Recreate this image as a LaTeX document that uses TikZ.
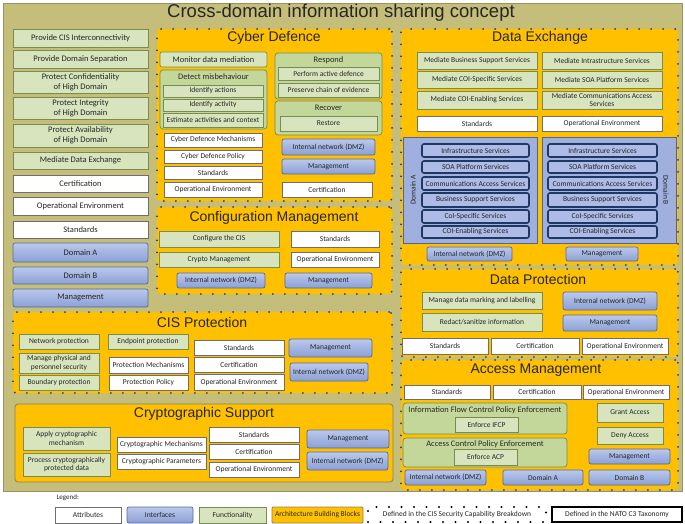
\documentclass[tikz,border=0pt]{standalone}
\usepackage{fontspec}
\setmainfont{Carlito}
\newfontfamily\arialf{Liberation Sans}
\definecolor{olivebg}{RGB}{196,190,122}
\definecolor{oliveln}{RGB}{150,146,100}
\definecolor{abbfill}{RGB}{255,192,0}
\definecolor{abbline}{RGB}{140,130,90}
\definecolor{dotcol}{RGB}{40,60,110}
\definecolor{grnfill}{RGB}{215,228,189}
\definecolor{grpfill}{RGB}{196,215,155}
\definecolor{grnline}{RGB}{120,140,80}
\definecolor{whtline}{RGB}{110,110,110}
\definecolor{blutop}{RGB}{186,200,236}
\definecolor{blubot}{RGB}{140,160,212}
\definecolor{bluline}{RGB}{85,105,155}
\definecolor{domfill}{RGB}{160,176,222}
\definecolor{domline}{RGB}{80,100,150}
\definecolor{svcfill}{RGB}{172,188,230}
\definecolor{svcline}{RGB}{32,56,100}
\definecolor{txt}{RGB}{38,38,38}
\tikzset{
  box/.style={anchor=north west, inner sep=1pt, outer sep=0pt, align=center, text=txt, font=\fontsize{7.5}{8.3}\selectfont},
  wh/.style 2 args={minimum width=#1pt, minimum height=#2pt},
  lc/.style={font=\fontsize{8.5}{10}\selectfont},
  grn/.style={box, draw=grnline, fill=grnfill, line width=0.7pt},
  grp/.style={box, draw=grnline, fill=grpfill, rounded corners=3pt, line width=0.7pt},
  wht/.style={box, draw=whtline, fill=white, line width=0.6pt},
  blu/.style={box, draw=bluline, top color=blutop, bottom color=blubot, rounded corners=2pt, line width=0.7pt},
  dom/.style={box, draw=domline, fill=domfill, line width=0.6pt},
  svc/.style={box, draw=svcline, fill=svcfill, rounded corners=2pt, line width=1.6pt},
  abb/.style={box, fill=abbfill, draw=dotcol, rounded corners=3pt, line width=2pt, line cap=round, dash pattern=on 0pt off 12pt},
  abbsolid/.style={box, fill=abbfill, draw=abbline, rounded corners=3pt, line width=0.8pt},
  abbtitle/.style={text=txt, font=\arialf\fontsize{14}{16}\selectfont},
  grptitle/.style={text=txt, font=\fontsize{8.4}{10}\selectfont},
  vlabel/.style={text=txt, font=\fontsize{7.5}{9}\selectfont}
}
\begin{document}
\begin{tikzpicture}[x=1pt,y=1pt,yscale=-1]
\useasboundingbox (0,0) rectangle (685,524);
\fill[white] (0,0) rectangle (685,524);

%Outer frame
\node[box, fill=olivebg, draw=oliveln, line width=0.8pt, wh={679}{488}] (frame) at (3,3) {};
% Text Node
\node[text=txt, font=\arialf\fontsize{18.5}{20}\selectfont] (title) at (341,13) {Cross-domain information sharing concept};

%Left column
\node[grn, lc, wh={135}{18}] (cisic) at (13,29) {Provide CIS Interconnectivity};
\node[grn, lc, wh={135}{18}] (dsep) at (13,50) {Provide Domain Separation};
\node[grn, lc, wh={135}{22}] (pconf) at (13,71) {Protect Confidentiality\\of High Domain};
\node[grn, lc, wh={135}{22}] (pint) at (13,97) {Protect Integrity\\of High Domain};
\node[grn, lc, wh={135}{23}] (pavail) at (13,124) {Protect Availability\\of High Domain};
\node[grn, lc, wh={135}{17}] (mde) at (13,152) {Mediate Data Exchange};
\node[wht, lc, wh={135}{17}] (lcert) at (13,175) {Certification};
\node[wht, lc, wh={135}{18}] (lopenv) at (13,197) {Operational Environment};
\node[wht, lc, wh={135}{17}] (lstd) at (13,221) {Standards};
\node[blu, lc, wh={135}{19}] (ldoma) at (13,243) {Domain A};
\node[blu, lc, wh={135}{17}] (ldomb) at (13,267) {Domain B};
\node[blu, lc, wh={135}{18}] (lmgmt) at (13,289) {Management};

%Cyber Defence
\node[abb, wh={235}{172}] (cyd) at (157,29) {};
\node[abbtitle] (cydt) at (274,38) {Cyber Defence};
\node[grn, grptitle, rounded corners=2pt, wh={107}{15}] (mdm) at (160,52) {Monitor data mediation};
\node[grp, wh={107}{59}] (dmb) at (160,70) {};
\node[grptitle] (dmbt) at (213.5,77) {Detect misbehaviour};
\node[grn, wh={100}{12}] (ida) at (163,85) {Identify actions};
\node[grn, wh={100}{12}] (idy) at (163,99) {Identify activity};
\node[grn, wh={100}{14}] (eac) at (163,113) {Estimate activities and context};
\node[grp, wh={107}{46}] (rsp) at (275,53) {};
\node[grptitle] (rspt) at (328.5,60) {Respond};
\node[grn, wh={101}{13}] (pad) at (278,67) {Perform active defence};
\node[grn, wh={101}{14}] (pce) at (278,83) {Preserve chain of evidence};
\node[grp, wh={107}{34}] (rcv) at (275,101) {};
\node[grptitle] (rcvt) at (328.5,108) {Recover};
\node[grn, wh={97}{15}] (rst) at (280,116) {Restore};
\node[wht, wh={98}{14}] (cdm) at (164,133) {Cyber Defence Mechanisms};
\node[wht, wh={98}{13}] (cdp) at (164,150) {Cyber Defence Policy};
\node[wht, wh={98}{13}] (cdstd) at (164,166) {Standards};
\node[wht, wh={98}{15}] (cdoe) at (164,182) {Operational Environment};
\node[blu, wh={93}{16}] (cddmz) at (282,139) {Internal network (DMZ)};
\node[blu, wh={93}{15}] (cdmgmt) at (282,159) {Management};
\node[wht, wh={90}{15}] (cdcert) at (282,182) {Certification};

%Configuration Management
\node[abb, wh={235}{87}] (cfg) at (157,207) {};
\node[abbtitle] (cfgt) at (274,218) {Configuration Management};
\node[grn, wh={120}{16}] (ccis) at (159,231) {Configure the CIS};
\node[grn, wh={120}{15}] (cmgt) at (159,252) {Crypto Management};
\node[wht, wh={88}{16}] (cmstd) at (291,231) {Standards};
\node[wht, wh={88}{15}] (cmoe) at (291,252) {Operational Environment};
\node[blu, wh={88}{15}] (cmdmz) at (177,273) {Internal network (DMZ)};
\node[blu, wh={87}{15}] (cmmgmt) at (285,273) {Management};

%CIS Protection
\node[abb, wh={379}{81}] (cisp) at (13,312) {};
\node[abbtitle] (cispt) at (202,322) {CIS Protection};
\node[grn, wh={80}{15}] (netp) at (19,334) {Network protection};
\node[grn, wh={80}{20}] (mpps) at (19,353) {Manage physical and\\personnel security};
\node[grn, wh={80}{15}] (bndp) at (19,375) {Boundary protection};
\node[grn, wh={80}{15}] (endp) at (108,334) {Endpoint protection};
\node[wht, wh={79}{16}] (pmech) at (109,357) {Protection Mechanisms};
\node[wht, wh={79}{15}] (ppol) at (109,375) {Protection Policy};
\node[wht, wh={90}{15}] (cpstd) at (194,340) {Standards};
\node[wht, wh={90}{15}] (cpcert) at (194,357) {Certification};
\node[wht, wh={90}{16}] (cpoe) at (194,374) {Operational Environment};
\node[blu, wh={83}{18}] (cpmgmt) at (289,339) {Management};
\node[blu, wh={78}{18}] (cpdmz) at (290,363) {Internal network (DMZ)};

%Cryptographic Support
\node[abbsolid, wh={378}{78}] (crs) at (15,404) {};
\node[abbtitle] (crst) at (204,414) {Cryptographic Support};
\node[grn, wh={87}{23}] (acm) at (23,427) {Apply cryptographic\\mechanism};
\node[grn, wh={87}{23}] (pcpd) at (23,453) {Process cryptographically\\protected data};
\node[wht, wh={89}{15}] (csmech) at (117,437) {Cryptographic Mechanisms};
\node[wht, wh={89}{15}] (cspar) at (117,454) {Cryptographic Parameters};
\node[wht, wh={90}{15}] (csstd) at (209,427) {Standards};
\node[wht, wh={90}{15}] (cscert) at (209,444) {Certification};
\node[wht, wh={90}{15}] (csoe) at (209,462) {Operational Environment};
\node[blu, wh={82}{18}] (csmgmt) at (307,430) {Management};
\node[blu, wh={81}{18}] (csdmz) at (307,452) {Internal network (DMZ)};

%Data Exchange
\node[abb, wh={277}{236}] (dex) at (401,29) {};
\node[abbtitle] (dext) at (540,38) {Data Exchange};
\node[grn, wh={120}{17}] (mbss) at (417,52) {Mediate Business Support Services};
\node[grn, wh={120}{17}] (mcoi) at (417,71) {Mediate COI-Specific Services};
\node[grn, wh={120}{18}] (mcoe) at (417,91) {Mediate COI-Enabling Services};
\node[grn, wh={120}{17}] (mins) at (542,52) {Mediate Intrastructure Services};
\node[grn, wh={120}{17}] (msoa) at (542,71) {Mediate SOA Platform Services};
\node[grn, wh={120}{18}] (mcas) at (542,91) {Mediate Communications Access\\Services};
\node[wht, wh={120}{15}] (dxstd) at (417,116) {Standards};
\node[wht, wh={120}{15}] (dxoe) at (542,116) {Operational Environment};
% Domain A
\node[dom, wh={134}{106}] (doma) at (403,137) {};
\node[vlabel, rotate=90] (domat) at (413,190) {Domain A};
\node[svc, wh={107}{13}] (ainf) at (422,144) {Infrastructure Services};
\node[svc, wh={107}{12}] (asoa) at (422,161) {SOA Platform Services};
\node[svc, wh={107}{13}] (acas) at (422,177) {Communications Access Services};
\node[svc, wh={107}{14}] (abss) at (422,193) {Business Support Services};
\node[svc, wh={107}{13}] (acoi) at (422,210) {CoI-Specific Services};
\node[svc, wh={107}{12}] (acoe) at (422,226) {COI-Enabling Services};
% Domain B
\node[dom, wh={134}{106}] (domb) at (542,137) {};
\node[vlabel, rotate=-90] (dombt) at (666,190) {Domain B};
\node[svc, wh={109}{13}] (binf) at (548,144) {Infrastructure Services};
\node[svc, wh={109}{12}] (bsoa) at (548,161) {SOA Platform Services};
\node[svc, wh={109}{13}] (bcas) at (548,177) {Communications Access Services};
\node[svc, wh={109}{14}] (bbss) at (548,193) {Business Support Services};
\node[svc, wh={109}{13}] (bcoi) at (548,210) {CoI-Specific Services};
\node[svc, wh={109}{12}] (bcoe) at (548,226) {COI-Enabling Services};
\node[blu, wh={85}{14}] (dxdmz) at (427,247) {Internal network (DMZ)};
\node[blu, wh={72}{14}] (dxmgmt) at (566,247) {Management};

%Data Protection
\node[abb, wh={277}{88}] (dpr) at (401,269) {};
\node[abbtitle] (dprt) at (538,279) {Data Protection};
\node[grn, wh={120}{17}] (mdml) at (422,292) {Manage data marking and labelling};
\node[grn, wh={120}{18}] (rsi) at (422,313) {Redact/sanitize information};
\node[blu, wh={94}{18}] (dpdmz) at (563,292) {Internal network (DMZ)};
\node[blu, wh={94}{16}] (dpmgmt) at (563,315) {Management};
\node[wht, wh={86}{16}] (dpstd) at (402,338) {Standards};
\node[wht, wh={88}{16}] (dpcert) at (491,338) {Certification};
\node[wht, wh={86}{16}] (dpoe) at (582,338) {Operational Environment};

%Access Management
\node[abb, wh={277}{130}] (acc) at (401,360) {};
\node[abbtitle] (acct) at (536,370) {Access Management};
\node[wht, wh={86}{14}] (amstd) at (404,385) {Standards};
\node[wht, wh={88}{14}] (amcert) at (493,385) {Certification};
\node[wht, wh={86}{14}] (amoe) at (583,385) {Operational Environment};
\node[grp, wh={164}{31}] (ifcp) at (403,403) {};
\node[grptitle] (ifcpt) at (485,410) {Information Flow Control Policy Enforcement};
\node[grn, wh={63}{15}] (eifcp) at (455,417) {Enforce IFCP};
\node[grp, wh={164}{29}] (acpe) at (403,438) {};
\node[grptitle] (acpet) at (485,444) {Access Control Policy Enforcement};
\node[grn, wh={63}{16}] (eacp) at (454,449) {Enforce ACP};
\node[grn, wh={66}{19}] (grant) at (597,403) {Grant Access};
\node[grn, wh={66}{17}] (deny) at (597,427) {Deny Access};
\node[blu, wh={81}{15}] (ammgmt) at (589,449) {Management};
\node[blu, wh={81}{15}] (amdmz) at (405,470) {Internal network (DMZ)};
\node[blu, wh={80}{15}] (amdoma) at (503,470) {Domain A};
\node[blu, wh={81}{15}] (amdomb) at (589,470) {Domain B};

%Legend
\node[text=txt, font=\fontsize{7}{8}\selectfont, anchor=west] (lgd) at (53,498) {Legend:};
\node[wht, wh={66}{16}] (lattr) at (55,507) {Attributes};
\node[blu, wh={66}{16}] (lintf) at (127,507) {Interfaces};
\node[grn, wh={67}{16}] (lfunc) at (199,507) {Functionality};
\node[abbsolid, rounded corners=1pt, wh={91}{16}] (labb) at (272,507) {Architecture Building Blocks};
\node[box, draw=black, line width=2.2pt, line cap=round, dash pattern=on 0pt off 12.5pt, wh={178}{15}] (lcsc) at (368,507) {Defined in the CIS Security Capability Breakdown};
\node[box, draw=black, line width=2.4pt, wh={130}{15}] (lnato) at (552,507) {Defined in the NATO C3 Taxonomy};
\end{tikzpicture}
\end{document}
